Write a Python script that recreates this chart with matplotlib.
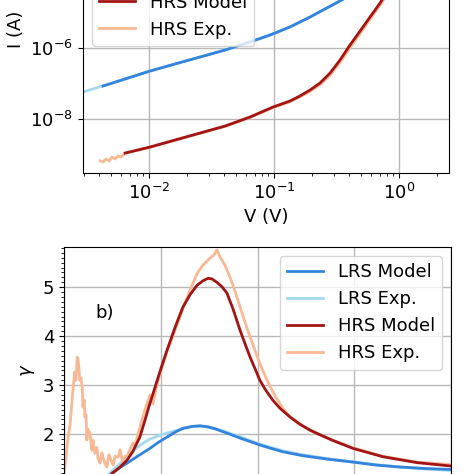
import numpy as np
import matplotlib
matplotlib.use('Agg')
from matplotlib import pyplot as plt
from matplotlib.ticker import MultipleLocator, NullLocator

plt.rcParams['font.size'] = 13

#%% data
# top panel: I-V curves (V in volts, I in amps)
lrs_exp_V = [2.5e-3, 2.96e-3, 4.29e-3, 6.43e-3, 1.02e-2, 1.61e-2, 2.56e-2, 4.06e-2,
             6.43e-2, 9.29e-2, 0.134, 0.194, 0.256, 0.325, 0.5, 1.0]
lrs_exp_I = [5.0e-8, 5.77e-8, 8.6e-8, 1.35e-7, 2.26e-7, 3.56e-7, 5.6e-7, 8.8e-7,
             1.48e-6, 2.32e-6, 3.9e-6, 7.4e-6, 1.25e-5, 1.97e-5, 4.5e-5, 1.3e-4]
lrs_mod_V = [4.29e-3, 6.43e-3, 1.02e-2, 1.61e-2, 2.56e-2, 4.06e-2, 6.43e-2,
             9.29e-2, 0.134, 0.194, 0.256, 0.325, 0.5, 1.0]
lrs_mod_I = [8.51e-8, 1.34e-7, 2.25e-7, 3.54e-7, 5.57e-7, 8.78e-7, 1.48e-6,
             2.32e-6, 3.91e-6, 7.46e-6, 1.26e-5, 1.98e-5, 4.5e-5, 1.3e-4]

hrs_mod_V = [6.43e-3, 1.02e-2, 1.61e-2, 2.56e-2, 4.06e-2, 6.43e-2, 9.82e-2, 0.134,
             0.161, 0.194, 0.233, 0.281, 0.337, 0.406, 0.488, 0.586, 0.705, 0.93]
hrs_mod_I = [1.10e-9, 1.63e-9, 2.56e-9, 4.04e-9, 6.35e-9, 1.14e-8, 2.18e-8, 3.21e-8,
             4.45e-8, 6.56e-8, 1.03e-7, 1.98e-7, 4.59e-7, 1.22e-6, 3.01e-6, 7.46e-6,
             1.85e-5, 8.3e-5]
hrs_exp_V = [4.06e-3, 4.29e-3, 4.53e-3, 4.79e-3, 5.06e-3, 5.35e-3, 5.65e-3, 5.97e-3,
             6.43e-3, 1.02e-2, 1.61e-2, 2.56e-2, 4.06e-2, 6.43e-2, 9.82e-2, 0.134,
             0.161, 0.194, 0.233, 0.281, 0.337, 0.406, 0.488, 0.586, 0.705, 0.93]
hrs_exp_I = [6.6e-10, 6.2e-10, 7.5e-10, 6.6e-10, 8.5e-10, 7.5e-10, 9.1e-10, 8.5e-10,
             1.08e-9, 1.60e-9, 2.50e-9, 3.95e-9, 6.2e-9, 1.10e-8, 2.10e-8, 3.05e-8,
             4.2e-8, 6.0e-8, 9.2e-8, 1.72e-7, 3.9e-7, 1.02e-6, 2.55e-6, 6.4e-6,
             1.6e-5, 7.0e-5]

# bottom panel: gamma = dlnI/dlnV versus V
g_lrs_mod_V = [0.106, 0.124, 0.145, 0.171, 0.196, 0.222, 0.243, 0.266, 0.287, 0.307,
               0.333, 0.351, 0.370, 0.390, 0.411, 0.432, 0.455, 0.481, 0.506, 0.535,
               0.566, 0.618, 0.682, 0.747, 0.806, 0.868, 0.933, 1.0]
g_lrs_mod = [1.05, 1.20, 1.32, 1.45, 1.58, 1.71, 1.83, 1.94, 2.04, 2.12,
             2.16, 2.17, 2.15, 2.11, 2.05, 1.99, 1.92, 1.85, 1.78, 1.71,
             1.64, 1.56, 1.49, 1.43, 1.37, 1.33, 1.30, 1.28]
g_lrs_exp_V = [0.106, 0.124, 0.145, 0.165, 0.189, 0.209, 0.222, 0.248, 0.287, 0.326,
               0.351, 0.370, 0.390, 0.411, 0.432, 0.455, 0.481, 0.506, 0.535, 0.566,
               0.618, 0.682, 0.747, 0.806, 0.868, 0.933, 1.0]
g_lrs_exp = [1.10, 1.25, 1.40, 1.55, 1.73, 1.84, 1.90, 1.98, 2.07, 2.15,
             2.17, 2.16, 2.12, 2.07, 2.01, 1.95, 1.87, 1.80, 1.73, 1.66,
             1.58, 1.50, 1.44, 1.38, 1.33, 1.29, 1.26]

g_hrs_mod_V = [0.106, 0.124, 0.145, 0.163, 0.178, 0.196, 0.209, 0.222, 0.235, 0.248,
               0.266, 0.287, 0.307, 0.326, 0.344, 0.359, 0.372, 0.382, 0.395, 0.408,
               0.421, 0.437, 0.455, 0.468, 0.481, 0.494, 0.506, 0.522, 0.540, 0.558,
               0.584, 0.610, 0.636, 0.661, 0.695, 0.747, 0.824, 0.912, 1.0]
g_hrs_mod = [1.00, 1.20, 1.33, 1.47, 1.65, 1.94, 2.28, 2.63, 2.95, 3.28,
             3.71, 4.18, 4.59, 4.85, 5.04, 5.13, 5.18, 5.17, 5.10, 5.01,
             4.88, 4.55, 4.12, 3.84, 3.57, 3.33, 3.10, 2.89, 2.69, 2.53,
             2.35, 2.20, 2.08, 1.99, 1.87, 1.71, 1.54, 1.42, 1.35]
g_hrs_exp_V = [0.000, 0.005, 0.010, 0.016, 0.021, 0.023, 0.028, 0.031, 0.034, 0.036,
               0.039, 0.041, 0.044, 0.047, 0.049, 0.052, 0.054, 0.057, 0.059, 0.062,
               0.067, 0.070, 0.072, 0.075, 0.080, 0.085, 0.088, 0.093, 0.098, 0.101,
               0.106, 0.111, 0.116, 0.119, 0.124, 0.127, 0.132, 0.140, 0.145, 0.152,
               0.158, 0.165, 0.171, 0.178, 0.183, 0.189, 0.196, 0.209, 0.222, 0.230,
               0.240, 0.248, 0.266, 0.287, 0.307, 0.326, 0.344, 0.359, 0.377, 0.388,
               0.395, 0.403, 0.416, 0.429, 0.442, 0.455, 0.468, 0.481, 0.494, 0.506,
               0.519, 0.532, 0.548, 0.566, 0.584, 0.610, 0.636, 0.661, 0.695, 0.747,
               0.824, 0.912, 1.0]
g_hrs_exp = [1.20, 1.50, 1.90, 2.22, 2.70, 2.90, 3.27, 3.10, 3.57, 3.55,
             3.30, 3.10, 3.15, 2.96, 2.55, 2.70, 2.35, 2.40, 1.88, 2.10,
             2.02, 1.80, 1.67, 1.88, 1.61, 1.73, 1.50, 1.41, 1.62, 1.53,
             1.40, 1.33, 1.58, 1.53, 1.42, 1.37, 1.55, 1.53, 1.68, 1.41,
             1.55, 1.57, 1.70, 1.82, 1.75, 1.94, 2.14, 2.49, 2.80, 2.62,
             3.00, 3.22, 3.68, 4.12, 4.55, 4.95, 5.28, 5.45, 5.59, 5.66,
             5.76, 5.62, 5.45, 5.20, 4.92, 4.59, 4.28, 3.98, 3.70, 3.45,
             3.20, 2.98, 2.75, 2.52, 2.36, 2.21, 2.09, 1.99, 1.88, 1.72,
             1.55, 1.43, 1.38]

c_lrs_mod = '#3384dc'
c_lrs_exp = '#a3d8ee'
c_hrs_mod = '#a31414'
c_hrs_exp = '#f8b994'

#%% figure, axes placed so that the picture is cropped like the reference
W = 474
fig = plt.figure(figsize=(4.74, 4.74), dpi=100)
ax1 = fig.add_axes([83/W, (W-173)/W, 366/W, 288/W])
ax2 = fig.add_axes([64/W, (W-493)/W, 387/W, 246/W])

# top: I-V
ax1.plot(lrs_exp_V, lrs_exp_I, color=c_lrs_exp, lw=2, label='LRS Exp.')
ax1.plot(lrs_mod_V, lrs_mod_I, color=c_lrs_mod, lw=2, label='LRS Model')
ax1.plot(hrs_exp_V, hrs_exp_I, color=c_hrs_exp, lw=2, label='HRS Exp.')
ax1.plot(hrs_mod_V, hrs_mod_I, color=c_hrs_mod, lw=2, label='HRS Model')
ax1.set_xscale('log')
ax1.set_yscale('log')
ax1.set_xlim([2.96e-3, 2.51])
ax1.set_ylim([10**-9.52, 10**-1.41])
ax1.set_yticks([1e-8, 1e-6, 1e-4, 1e-2])
ax1.yaxis.set_minor_locator(NullLocator())
ax1.set_axisbelow(True)
ax1.grid(True, which='major', color='#b8b8b8', lw=1)
ax1.set_xlabel('V (V)')
ax1.set_ylabel('I (A)')
h, l = ax1.get_legend_handles_labels()
order = [1, 0, 3, 2]
ax1.legend([h[i] for i in order], [l[i] for i in order], loc='lower left',
           bbox_to_anchor=(92/W, 1-46/W), bbox_transform=fig.transFigure,
           borderaxespad=0)

# bottom: gamma
ax2.plot(g_lrs_exp_V, g_lrs_exp, color=c_lrs_exp, lw=2, label='LRS Exp.')
ax2.plot(g_lrs_mod_V, g_lrs_mod, color=c_lrs_mod, lw=2, label='LRS Model')
ax2.plot(g_hrs_exp_V, g_hrs_exp, color=c_hrs_exp, lw=2, label='HRS Exp.')
ax2.plot(g_hrs_mod_V, g_hrs_mod, color=c_hrs_mod, lw=2, label='HRS Model')
ax2.set_xlim([0, 1])
ax2.set_ylim([0.8, 5.82])
ax2.set_xticks([0, 0.25, 0.5, 0.75, 1.0])
ax2.set_yticks([1, 2, 3, 4, 5])
ax2.yaxis.set_minor_locator(MultipleLocator(0.1))
ax2.set_axisbelow(True)
ax2.grid(True, which='major', color='#b8b8b8', lw=1)
ax2.set_ylabel(r'$\gamma$')
ax2.text(0.08, 0.732, 'b)', transform=ax2.transAxes, ha='left', va='center')
h, l = ax2.get_legend_handles_labels()
ax2.legend([h[i] for i in order], [l[i] for i in order], loc='upper right')

plt.savefig('out.png', dpi=100)
